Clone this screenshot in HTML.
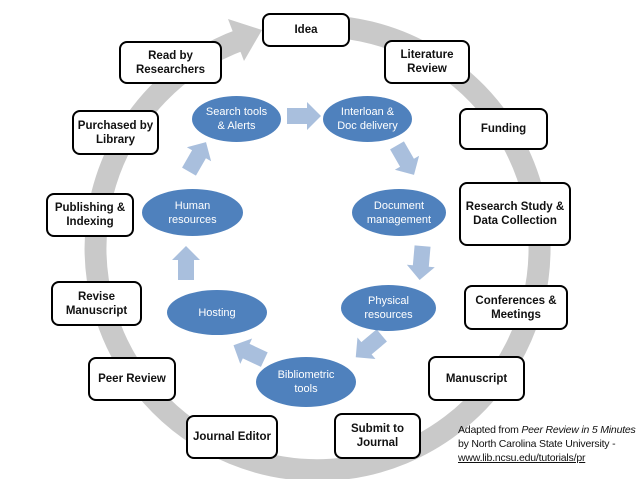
<!DOCTYPE html>
<html><head><meta charset="utf-8"><style>
body{margin:0;background:#fff;width:638px;height:479px;overflow:hidden;font-family:"Liberation Sans",sans-serif}
.b{position:absolute;box-sizing:border-box;border:2px solid #000;border-radius:8px;background:#fff;display:flex;align-items:center;justify-content:center;text-align:center;font-weight:bold;font-size:11.5px;line-height:14px;color:#111}
.e{position:absolute;border-radius:50%;background:#4f81bd;color:#fff;display:flex;align-items:center;justify-content:center;text-align:center;font-size:11px;line-height:14px}
.n{position:absolute;left:458px;top:423px;font-size:10.5px;line-height:14px;color:#111;letter-spacing:-0.2px}
</style></head><body>
<svg width="638" height="479" style="position:absolute;left:0;top:0">
<path d="M 337 27 A 222 222 0 1 1 242 39.4" fill="none" stroke="#c9c9c9" stroke-width="22"/>
<polygon points="262,30 244,61 228,19" fill="#c9c9c9"/>
<defs><polygon id="a" points="-18,-8 2,-8 2,-14 16,0 2,14 2,8 -18,8" fill="#a9bfdd"/></defs>
<use href="#a" transform="translate(305,116)"/>
<use href="#a" transform="translate(406,161) rotate(60)"/>
<use href="#a" transform="translate(421,264) rotate(95)"/>
<use href="#a" transform="translate(368,347) rotate(140)"/>
<use href="#a" transform="translate(248,352) rotate(205)"/>
<use href="#a" transform="translate(186,262) rotate(-90)"/>
<use href="#a" transform="translate(198,156) rotate(-60)"/>
</svg>
<div class="b" style="left:262px;top:13px;width:88px;height:34px">Idea</div>
<div class="b" style="left:119px;top:41px;width:103px;height:43px">Read by<br>Researchers</div>
<div class="b" style="left:384px;top:40px;width:86px;height:44px">Literature<br>Review</div>
<div class="b" style="left:72px;top:110px;width:87px;height:45px">Purchased by<br>Library</div>
<div class="b" style="left:459px;top:108px;width:89px;height:42px">Funding</div>
<div class="b" style="left:46px;top:193px;width:88px;height:44px">Publishing &amp;<br>Indexing</div>
<div class="b" style="left:459px;top:182px;width:112px;height:64px">Research Study &amp;<br>Data Collection</div>
<div class="b" style="left:51px;top:281px;width:91px;height:45px">Revise<br>Manuscript</div>
<div class="b" style="left:464px;top:285px;width:104px;height:45px">Conferences &amp;<br>Meetings</div>
<div class="b" style="left:88px;top:357px;width:88px;height:44px">Peer Review</div>
<div class="b" style="left:428px;top:356px;width:97px;height:45px">Manuscript</div>
<div class="b" style="left:186px;top:415px;width:92px;height:44px">Journal Editor</div>
<div class="b" style="left:334px;top:413px;width:87px;height:46px">Submit to<br>Journal</div>
<div class="e" style="left:192px;top:96px;width:89px;height:46px">Search tools<br>&amp; Alerts</div>
<div class="e" style="left:323px;top:96px;width:89px;height:46px">Interloan &amp;<br>Doc delivery</div>
<div class="e" style="left:352px;top:189px;width:94px;height:47px">Document<br>management</div>
<div class="e" style="left:341px;top:285px;width:95px;height:46px">Physical<br>resources</div>
<div class="e" style="left:256px;top:357px;width:100px;height:50px">Bibliometric<br>tools</div>
<div class="e" style="left:167px;top:290px;width:100px;height:45px">Hosting</div>
<div class="e" style="left:142px;top:189px;width:101px;height:47px">Human<br>resources</div>
<div class="n">Adapted from <i>Peer Review in 5 Minutes</i><br>by North Carolina State University -<br><u>www.lib.ncsu.edu/tutorials/pr</u></div>
</body></html>
